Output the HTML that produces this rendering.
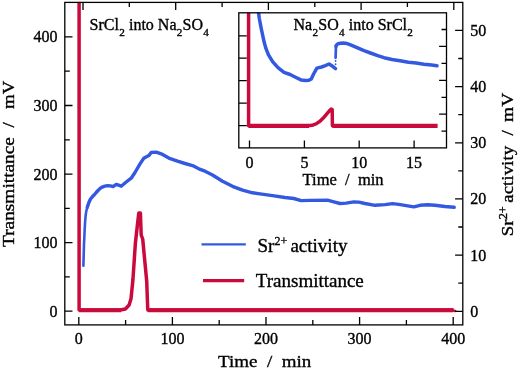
<!DOCTYPE html>
<html lang="en">
<head>
<meta charset="utf-8">
<title>Transmittance and Sr2+ activity</title>
<style>
html,body{margin:0;padding:0;background:#fff;}
body{width:520px;height:370px;overflow:hidden;}
svg{display:block;}
text{font-family:"Liberation Serif",serif;fill:#000000;stroke:#000000;stroke-width:0.35px;}
</style>
</head>
<body>
<svg width="520" height="370" viewBox="0 0 520 370">
<rect width="520" height="370" fill="#ffffff"/>
<defs>
<clipPath id="cm"><rect x="64.8" y="2.4" width="398.0" height="322.5"/></clipPath>
<clipPath id="ci"><rect x="238.8" y="12.8" width="207.7" height="135.1"/></clipPath>
</defs>
<g fill="none" stroke-linejoin="round" stroke-linecap="round" clip-path="url(#cm)">
<path d="M83.4,265.7 L83.7,255.0 L84.0,244.0 L84.4,236.0 L84.7,228.9 L85.1,222.0 L85.6,215.9 L86.3,211.0 L87.3,207.3 L88.7,203.0 L90.5,199.0" stroke="#3459e1" stroke-width="2.6"/>
<path d="M87.3,207.3 L88.7,203.0 L90.5,199.0 L92.3,196.8 L93.8,195.3 L96.2,192.5 L98.5,190.0 L101.2,187.6 L104.0,186.4 L107.5,185.6 L110.5,185.9 L113.1,186.6 L116.2,184.4 L118.5,185.2 L121.2,186.2 L126.2,182.0 L131.2,178.2 L135.0,172.5 L140.0,163.9 L143.8,158.3 L146.0,157.0 L148.8,155.6 L151.2,152.5 L156.2,152.1 L161.2,153.8 L168.8,158.1 L177.5,161.2 L185.0,163.5 L192.5,165.6 L198.8,168.8 L205.0,171.2 L212.5,175.0 L222.5,181.2 L232.5,186.3 L242.5,190.2 L252.5,192.8 L260.0,193.9 L272.5,195.6 L285.0,197.5 L293.8,198.5 L301.2,200.6 L310.0,200.4 L327.5,200.2 L333.8,201.9 L340.0,203.5 L346.2,203.1 L353.8,201.9 L358.8,202.1 L365.0,203.5 L375.0,205.3 L385.0,204.6 L392.5,203.6 L398.8,204.4 L406.2,205.6 L413.8,206.9 L420.0,205.3 L427.5,204.8 L435.0,205.3 L445.0,206.5 L454.2,207.3" stroke="#3459e1" stroke-width="3.4"/>
<path d="M79.1,2.4 L79.1,310.0 L120.4,310.0 L125.4,309.0 L129.1,305.0 L131.0,298.8 L132.9,280.0 L135.4,243.0 L137.4,225.0 L138.8,213.0 L140.4,213.0 L141.2,235.0 L142.7,239.0 L146.7,281.0 L147.7,308.5 L147.9,310.0 L453.7,310.0" stroke="#ca0a3c" stroke-width="3.5" stroke-linecap="butt"/>
<path d="M79.1,310.3 H121 M147.9,310.3 H453.2" stroke="#ca0a3c" stroke-width="4" stroke-linecap="butt"/>
<path d="M452,310.4 L455.3,311" stroke="#ca0a3c" stroke-width="2.4" stroke-linecap="round"/>
</g>
<rect x="238.8" y="12.8" width="207.7" height="135.1" fill="#ffffff"/>
<g fill="none" stroke-linejoin="round" stroke-linecap="round" clip-path="url(#ci)">
<path d="M258.6,12.7 L259.3,18.5 L261.4,29.3 L264.0,41.5 L265.8,48.1 L268.5,54.9 L272.6,61.6 L278.0,67.7 L284.0,72.4 L290.1,74.5 L295.5,77.2 L301.0,79.9 L305.7,80.5 L308.6,80.3 L311.3,79.0 L313.6,74.0 L316.9,68.1 L321.6,67.0 L325.3,65.6 L329.0,64.0 L332.3,66.1 L335.5,68.6" stroke="#3459e1" stroke-width="3.5"/>
<path d="M335.6,64.3 L335.6,59" stroke="#3459e1" stroke-width="1.8" stroke-dasharray="0.1 3.2"/>
<path d="M335.6,57.8 L335.7,54.3 L335.9,48.0 L336.1,45.5" stroke="#3459e1" stroke-width="2.7"/>
<path d="M336.0,46.3 L336.5,45.0 L338.0,43.7 L340.5,43.2 L343.2,43.1 L347.0,43.6 L350.0,44.6 L357.0,47.6 L364.0,50.6 L370.5,53.0 L377.7,55.7 L384.0,57.7 L392.0,59.5 L400.0,60.8 L408.5,62.2 L416.2,63.1 L423.9,64.2 L431.6,65.1 L437.0,65.7" stroke="#3459e1" stroke-width="3.5"/>
<path d="M248.6,12.8 L248.6,125.8 L308.0,125.8 L312.0,125.3 L316.0,123.9 L320.0,121.2 L323.5,117.8 L327.0,113.7 L330.0,110.2 L331.2,109.1 L332.2,109.6 L332.4,125.8 L437.4,125.8" stroke="#ca0a3c" stroke-width="3.5" stroke-linecap="butt"/>
<path d="M248.6,125.8 H309 M332.4,125.8 H437.4" stroke="#ca0a3c" stroke-width="4.2" stroke-linecap="butt"/>
</g>
<g fill="none">
<path d="M201.5,244.4 H245.8" stroke="#3459e1" stroke-width="2.3"/>
<path d="M203,280.6 H244.2" stroke="#ca0a3c" stroke-width="3.3"/>
</g>
<g fill="none" stroke="#000000" stroke-width="1.3">
<rect x="64.8" y="2.4" width="398.0" height="322.5"/>
<rect x="238.8" y="12.8" width="207.7" height="135.1"/>
<path d="M78.8,324.9 L78.8,316.9 M125.6,324.9 L125.6,319.9 M172.4,324.9 L172.4,316.9 M219.2,324.9 L219.2,319.9 M266.0,324.9 L266.0,316.9 M312.8,324.9 L312.8,319.9 M359.6,324.9 L359.6,316.9 M406.4,324.9 L406.4,319.9 M453.2,324.9 L453.2,316.9 M83.0,2.4 L83.0,10.1 M129.3,2.4 L129.3,6.9 M175.7,2.4 L175.7,10.1 M222.1,2.4 L222.1,6.9 M268.4,2.4 L268.4,10.1 M314.8,2.4 L314.8,6.9 M361.1,2.4 L361.1,10.1 M407.4,2.4 L407.4,6.9 M453.8,2.4 L453.8,10.1 M64.8,311.2 L72.5,311.2 M64.8,276.9 L69.8,276.9 M64.8,242.7 L72.5,242.7 M64.8,208.4 L69.8,208.4 M64.8,174.1 L72.5,174.1 M64.8,139.8 L69.8,139.8 M64.8,105.5 L72.5,105.5 M64.8,71.2 L69.8,71.2 M64.8,36.9 L72.5,36.9 M462.8,311.3 L455.1,311.3 M462.8,283.2 L458.3,283.2 M462.8,255.1 L455.1,255.1 M462.8,227.0 L458.3,227.0 M462.8,198.9 L455.1,198.9 M462.8,170.9 L458.3,170.9 M462.8,142.8 L455.1,142.8 M462.8,114.7 L458.3,114.7 M462.8,86.6 L455.1,86.6 M462.8,58.5 L458.3,58.5 M462.8,30.4 L455.1,30.4 M249.5,147.9 L249.5,140.4 M304.4,147.9 L304.4,140.4 M359.2,147.9 L359.2,140.4 M414.1,147.9 L414.1,140.4 M238.8,125.6 L246.8,125.6 M238.8,103.1 L246.8,103.1 M238.8,80.7 L246.8,80.7 M238.8,58.2 L246.8,58.2 M238.8,35.8 L246.8,35.8 M446.5,131.2 L441.5,131.2 M446.5,114.2 L439.1,114.2 M446.5,97.3 L441.5,97.3 M446.5,80.3 L439.1,80.3 M446.5,63.4 L441.5,63.4 M446.5,46.4 L439.1,46.4 M446.5,29.5 L441.5,29.5"/>
</g>
<g>
<text x="57.6" y="42.3" font-size="16" text-anchor="end">400</text>
<text x="57.6" y="110.9" font-size="16" text-anchor="end">300</text>
<text x="57.6" y="179.5" font-size="16" text-anchor="end">200</text>
<text x="57.6" y="248.1" font-size="16" text-anchor="end">100</text>
<text x="57.6" y="316.6" font-size="16" text-anchor="end">0</text>
<text x="78.8" y="344.3" font-size="16" text-anchor="middle">0</text>
<text x="172.4" y="344.3" font-size="16" text-anchor="middle">100</text>
<text x="266.0" y="344.3" font-size="16" text-anchor="middle">200</text>
<text x="359.6" y="344.3" font-size="16" text-anchor="middle">300</text>
<text x="453.2" y="344.3" font-size="16" text-anchor="middle">400</text>
<text x="470.3" y="316.8" font-size="16" text-anchor="start">0</text>
<text x="470.3" y="260.6" font-size="16" text-anchor="start">10</text>
<text x="470.3" y="204.4" font-size="16" text-anchor="start">20</text>
<text x="470.3" y="148.3" font-size="16" text-anchor="start">30</text>
<text x="470.3" y="92.1" font-size="16" text-anchor="start">40</text>
<text x="470.3" y="35.9" font-size="16" text-anchor="start">50</text>
<text x="249.5" y="167.7" font-size="16" text-anchor="middle">0</text>
<text x="304.4" y="167.7" font-size="16" text-anchor="middle">5</text>
<text x="359.2" y="167.7" font-size="16" text-anchor="middle">10</text>
<text x="414.1" y="167.7" font-size="16" text-anchor="middle">15</text>
<text x="302.6" y="185" font-size="16.5" text-anchor="start">Time&#160;&#160;/&#160;&#160;min</text>
<text transform="translate(218,366.6) scale(1.086,1)" font-size="17.5">Time&#160;&#160;/&#160;&#160;min</text>
<text x="89.5" y="30.2" font-size="16">SrCl<tspan font-size="11.2" dy="6" dx="0.3">2</tspan><tspan dy="-6" dx="0.2"> into Na</tspan><tspan font-size="11.2" dy="6" dx="0.3">2</tspan><tspan dy="-6" dx="0.2">SO</tspan><tspan font-size="11.2" dy="6" dx="0.3">4</tspan></text>
<text x="293.5" y="30.2" font-size="16">Na<tspan font-size="11.2" dy="6" dx="0.3">2</tspan><tspan dy="-6" dx="0.2">SO</tspan><tspan font-size="11.2" dy="6" dx="0.3">4</tspan><tspan dy="-6" dx="0.2"> into SrCl</tspan><tspan font-size="11.2" dy="6" dx="0.3">2</tspan></text>
<text x="257.5" y="251.8" font-size="19">Sr<tspan font-size="12" dy="-7">2+</tspan><tspan dy="7" dx="-1.5"> activity</tspan></text>
<text x="255.8" y="287.1" font-size="19" text-anchor="start">Transmittance</text>
<text transform="translate(14.0,247.0) rotate(-90) scale(1.106,1)" font-size="17.5">Transmittance</text>
<text transform="translate(14.0,127.6) rotate(-90) scale(1.069,1)" font-size="17.5">/</text>
<text transform="translate(14.0,108.9) rotate(-90) scale(1.069,1)" font-size="17.5">mV</text>
<text transform="translate(513.2,236.2) rotate(-90) scale(1.073,1)" font-size="17.7">Sr<tspan font-size="11.5" dy="-6.5">2+</tspan><tspan dy="6.5" dx="-1.2"> activity</tspan></text>
<text transform="translate(513.3,135.6) rotate(-90) scale(1.069,1)" font-size="17.5">/</text>
<text transform="translate(513.3,121.9) rotate(-90) scale(1.109,1)" font-size="17.5">mV</text>
</g>
</svg>
</body>
</html>
